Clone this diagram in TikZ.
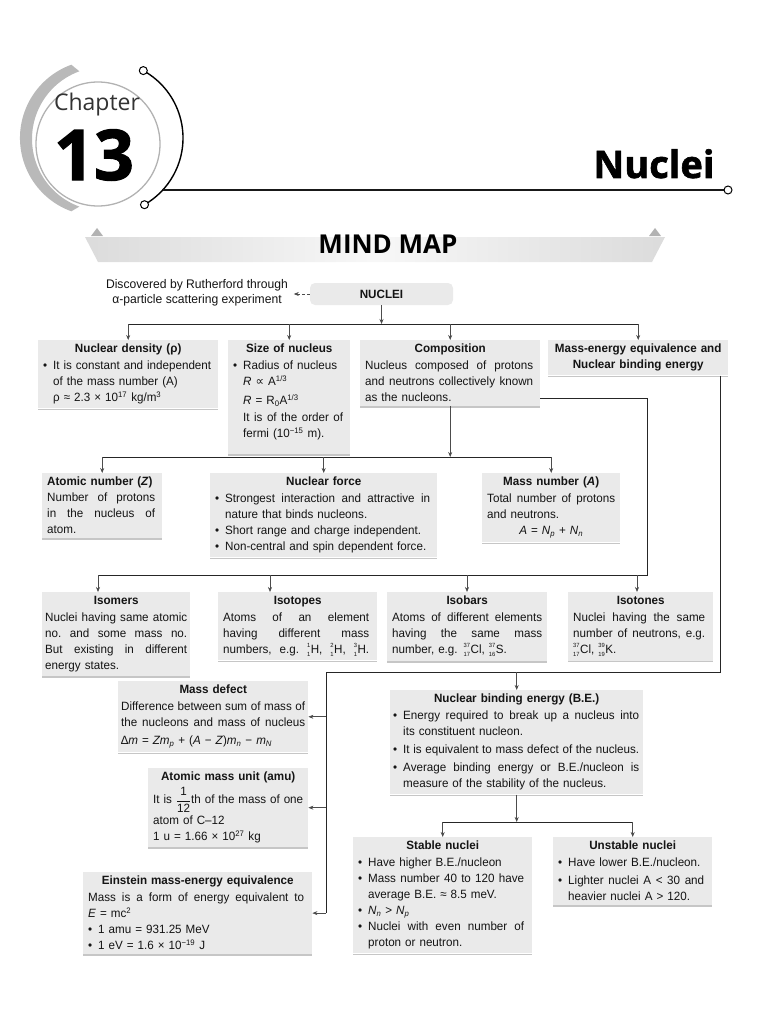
\documentclass[tikz,border=0pt]{standalone}
\usepackage{fontspec}
\setmainfont{Liberation Sans}[FakeStretch=0.97]
\newfontfamily\osans{Open Sans}
\newfontfamily\heavy{Open Sans}[FakeBold=1.6]
\newfontfamily\djv{DejaVu Sans}
\usetikzlibrary{arrows.meta}
\definecolor{boxgray}{RGB}{234,234,234}
\definecolor{ink}{RGB}{20,20,20}
\newcommand\bl{\makebox[10pt][l]{\textbullet}}
\newcommand\ind{\hspace*{10pt}}
\newcommand\ttl[1]{{\centering\bfseries #1\par}\vspace{1pt}}
\newcommand\sq[1]{\textsuperscript{#1}}
\newcommand\sbs[1]{\textsubscript{#1}}
% justified line of a given width, and justified bullet line
\newcommand\jl[2]{\leavevmode\hbox to #1{\frenchspacing\spaceskip=\fontdimen2\font plus 1fil\relax #2}}
\newcommand\jb[2]{\leavevmode\bl\jl{#1}{#2}}
\newdimen\isow
\newbox\isoa
\newbox\isob
\newcommand\iso[3]{\leavevmode\mbox{\setbox\isoa\hbox{\fontsize{6}{6}\selectfont #1}\setbox\isob\hbox{\fontsize{6}{6}\selectfont #2}\isow=\wd\isoa\ifdim\wd\isob>\isow \isow=\wd\isob\fi\hbox to\isow{\hfill\raise6pt\box\isoa}\kern-\isow\hbox to\isow{\hfill\lower3pt\box\isob}\kern0.5pt#3}}
\begin{document}
\begin{tikzpicture}[x=1pt,y=-1pt,
  box/.style={fill=boxgray, anchor=north west, inner xsep=5pt, inner ysep=4pt, align=left,
    font=\fontsize{12}{16}\selectfont, text=ink},
  bus/.style={draw=black!85, line width=0.7pt},
  arr/.style={draw=black!70, line width=0.6pt, -{Stealth[length=5pt,width=4pt]}},
  shadowline/.style={draw=gray!45, line width=1.6pt}]
\useasboundingbox (0,0) rectangle (768,1024);

% ---------- header ----------
\fill[gray!55] (71.3,211.3) arc[start angle=110,end angle=250,radius=78]
   -- (79.4,71.3) arc[start angle=250,end angle=110,radius=72] -- cycle;
\draw[gray!60, line width=1.3pt] (98,144) circle[radius=62];
\draw[black, line width=1.4pt] (106,138) ++(-61:77) arc[start angle=-61,end angle=60,radius=77];
\coordinate (hl) at (163,190);
\coordinate (hr) at (724,190);
\draw[black!90, line width=1.7pt] (hl) -- (hr);
\draw[black, line width=1pt, fill=white] (143.3,70.6) circle[radius=4];
\draw[black, line width=1pt, fill=white] (144.5,204.7) circle[radius=4];
\draw[black, line width=1pt, fill=white] (728,190) circle[radius=4];
\node[font=\osans\fontsize{23}{23}\selectfont, text=black!80] (chap) at (97,105) {Chapter};
\node[font=\heavy\bfseries\fontsize{70}{70}\selectfont, text=black] (num) at (94,155) {13};
\node[font=\heavy\bfseries\fontsize{38}{38}\selectfont, anchor=base east, text=black] (title) at (718,178) {Nuclei};

% banner
\shade[left color=gray!28, right color=gray!28, middle color=gray!6]
  (85,237) -- (665,237) -- (652,262) -- (98,262) -- cycle;
\fill[gray!60] (91,236) -- (97,228) -- (103,236) -- cycle;
\fill[gray!60] (649,236) -- (655,228) -- (661,236) -- cycle;
\node[font=\osans\bfseries\fontsize{26}{26}\selectfont, text=black] (mm) at (388,244) {MIND MAP};

% ---------- top ----------
\node[fill=boxgray, rounded corners=5pt, minimum width=143pt, minimum height=22pt,
  font=\bfseries\fontsize{12}{13}\selectfont, text=ink] (nuclei) at (381.5,294) {NUCLEI};
\node[align=center, font=\fontsize{12.5}{15}\selectfont, text=ink] (disc) at (197,293)
  {Discovered by Rutherford through\\α-particle scattering experiment};
\draw[arr, dash pattern=on 3pt off 2pt] (nuclei.west) -- ++(-16,0) coordinate (discend);

\node[box, text width=170pt] (dens) at (38,340)
 {\ttl{Nuclear density (ρ)}\jb{158pt}{It is constant and independent}\\
  \ind of the mass number (A)\\
  \ind ρ ≈ 2.3 × 10\sq{17} kg/m\sq{3}};
\node[box, text width=112pt] (size) at (228,340)
 {\ttl{Size of nucleus}\bl Radius of nucleus\\
  \ind\textit{R} {\djv ∝} A\sq{1/3}\\[3pt]
  \ind\textit{R} = R\sbs{0}A\sq{1/3}\\[1pt]
  \ind\jl{100pt}{It is of the order of}\\
  \ind fermi (10\sq{−15} m).\\[-4pt]\mbox{}};
\node[box, text width=170pt] (comp) at (360,340)
 {\ttl{Composition}\jl{168pt}{Nucleus composed of protons}\\
  \jl{168pt}{and neutrons collectively known}\\
  as the nucleons.};
\node[box, text width=170pt, align=center, font=\bfseries\fontsize{12}{16}\selectfont] (massen) at (548,340)
 {Mass-energy equivalence and\\Nuclear binding energy};

% ---------- middle ----------
\node[box, text width=110pt] (atomic) at (42,473)
 {\textbf{Atomic number (\textit{Z})}\\
  \jl{108pt}{Number of protons}\\
  \jl{108pt}{in the nucleus of}\\
  atom.};
\node[box, text width=217pt] (nforce) at (210,473)
 {\ttl{Nuclear force}\jb{205pt}{Strongest interaction and attractive in}\\
  \ind nature that binds nucleons.\\
  \bl Short range and charge independent.\\
  \bl Non-central and spin dependent force.};
\node[box, text width=128pt] (massnum) at (482,473)
 {\ttl{Mass number (\textit{A})}\jl{128pt}{Total number of protons}\\
  and neutrons.\par
  {\centering\textit{A} = \textit{N}\sbs{\textit{p}} + \textit{N}\sbs{\textit{n}}\par}};

% ---------- isotopes row ----------
\node[box, inner xsep=3pt, text width=142pt] (isomers) at (42,592)
 {\ttl{Isomers}\jl{142pt}{Nuclei having same atomic}\\
  \jl{142pt}{no. and some mass no.}\\
  \jl{142pt}{But existing in different}\\
  energy states.};
\node[box, text width=149pt] (isotopes) at (218,592)
 {\ttl{Isotopes}\jl{146pt}{Atoms of an element}\\
  \jl{146pt}{having different mass}\\
  \jl{146pt}{numbers, e.g. \iso{1}{1}{H}, \iso{2}{1}{H}, \iso{3}{1}{H}.}};
\node[box, text width=150pt] (isobars) at (387,592)
 {\ttl{Isobars}\jl{150pt}{Atoms of different elements}\\
  \jl{150pt}{having the same mass}\\
  number, e.g. \iso{37}{17}{Cl}, \iso{37}{16}{S}.};
\node[box, text width=135pt] (isotones) at (568,592)
 {\ttl{Isotones}\jl{132pt}{Nuclei having the same}\\
  \jl{132pt}{number of neutrons, e.g.}\\
  \iso{37}{17}{Cl}, \iso{39}{19}{K}.};

% ---------- lower left ----------
\node[box, inner xsep=3pt, text width=184pt] (massdef) at (118,681)
 {\ttl{Mass defect}\jl{184pt}{Difference between sum of mass of}\\
  \jl{184pt}{the nucleons and mass of nucleus}\\[2pt]
  ∆\textit{m} = \textit{Zm}\sbs{\textit{p}} + (\textit{A} − \textit{Z})\textit{m}\sbs{\textit{n}} − \textit{m}\sbs{\textit{N}}};
\node[box, text width=150pt] (amu) at (148,768)
 {\ttl{Atomic mass unit (amu)}\vspace{2pt}\jl{150pt}{It is $\displaystyle\frac{\mbox{1}}{\mbox{12}}$th of the mass of one}\\[3pt]
  atom of C–12\\
  1 u = 1.66 × 10\sq{27} kg};
\node[box, text width=219pt] (einstein) at (83,872)
 {\ttl{Einstein mass-energy equivalence}\jl{216pt}{Mass is a form of energy equivalent to}\\
  \textit{E} = mc\sq{2}\\
  \bl 1 amu = 931.25 MeV\\
  \bl 1 eV = 1.6 × 10\sq{−19} J};

% ---------- lower right ----------
\node[box, inner xsep=3pt, text width=247pt] (nbe) at (390,690)
 {\ttl{Nuclear binding energy (B.E.)}\jb{236pt}{Energy required to break up a nucleus into}\\
  \ind its constituent nucleon.\\[2pt]
  \jb{236pt}{It is equivalent to mass defect of the nucleus.}\\[2pt]
  \jb{236pt}{Average binding energy or B.E./nucleon is}\\
  \ind measure of the stability of the nucleus.};
\node[box, text width=169pt] (stable) at (353,837)
 {\ttl{Stable nuclei}\bl Have higher B.E./nucleon\\
  \jb{156pt}{Mass number 40 to 120 have}\\
  \ind average B.E. ≈ 8.5 meV.\\
  \bl\textit{N}\sbs{\textit{n}} > \textit{N}\sbs{\textit{p}}\\
  \jb{156pt}{Nuclei with even number of}\\
  \ind proton or neutron.};
\node[box, text width=149pt] (unstable) at (553,837)
 {\ttl{Unstable nuclei}\bl Have lower B.E./nucleon.\\[2pt]
  \jb{136pt}{Lighter nuclei A < 30 and}\\
  \ind heavier nuclei A > 120.};

% shadows
\foreach \n in {dens,size,comp,massen,atomic,nforce,massnum,isomers,isotopes,isobars,isotones,massdef,amu,einstein,nbe,stable,unstable}
  \draw[shadowline] ([yshift=-0.8pt]\n.south west) -- ([yshift=-0.8pt]\n.south east);

% ---------- connectors ----------
\coordinate (b1) at (0,324);
\draw[arr] (nuclei.south) -- (nuclei.south |- b1);
\draw[bus] (dens.north |- b1) -- (massen.north |- b1);
\foreach \n in {dens,size,comp,massen} \draw[arr] (\n.north |- b1) -- (\n.north);

\coordinate (b2) at (0,457);
\draw[arr] (comp.south) -- (comp.south |- b2);
\draw[bus] (atomic.north |- b2) -- (massnum.north |- b2);
\foreach \n in {atomic,nforce,massnum} \draw[arr] (\n.north |- b2) -- (\n.north);

\coordinate (c1) at (647,398);
\coordinate (d1) at (98,575);
\coordinate (d2) at (270,575);
\coordinate (d3) at (467,575);
\coordinate (d4) at (637,575);
\draw[bus] (comp.east |- c1) -- (c1) -- (c1 |- d1) -- (d1);
\draw[arr] (d1) -- (d1 |- isomers.north);
\draw[arr] (d2) -- (d2 |- isotopes.north);
\draw[arr] (d3) -- (d3 |- isobars.north);
\draw[arr] (d4) -- (d4 |- isotones.north);

\coordinate (b4r) at (720,672);
\coordinate (b4l) at (326,672);
\draw[bus] (b4r |- massen.south) -- (b4r) -- (b4l) -- (b4l |- einstein.east);
\draw[arr] (b4l |- einstein.east) -- (einstein.east);
\draw[arr] (b4l |- massdef.east) -- (massdef.east);
\draw[arr] (b4l |- amu.east) -- (amu.east);
\draw[arr] (nbe.north |- b4l) -- (nbe.north);

\coordinate (b5) at (0,822);
\draw[arr] (nbe.south) -- (nbe.south |- b5);
\draw[bus] (stable.north |- b5) -- (unstable.north |- b5);
\draw[arr] (stable.north |- b5) -- (stable.north);
\draw[arr] (unstable.north |- b5) -- (unstable.north);
\end{tikzpicture}
\end{document}
